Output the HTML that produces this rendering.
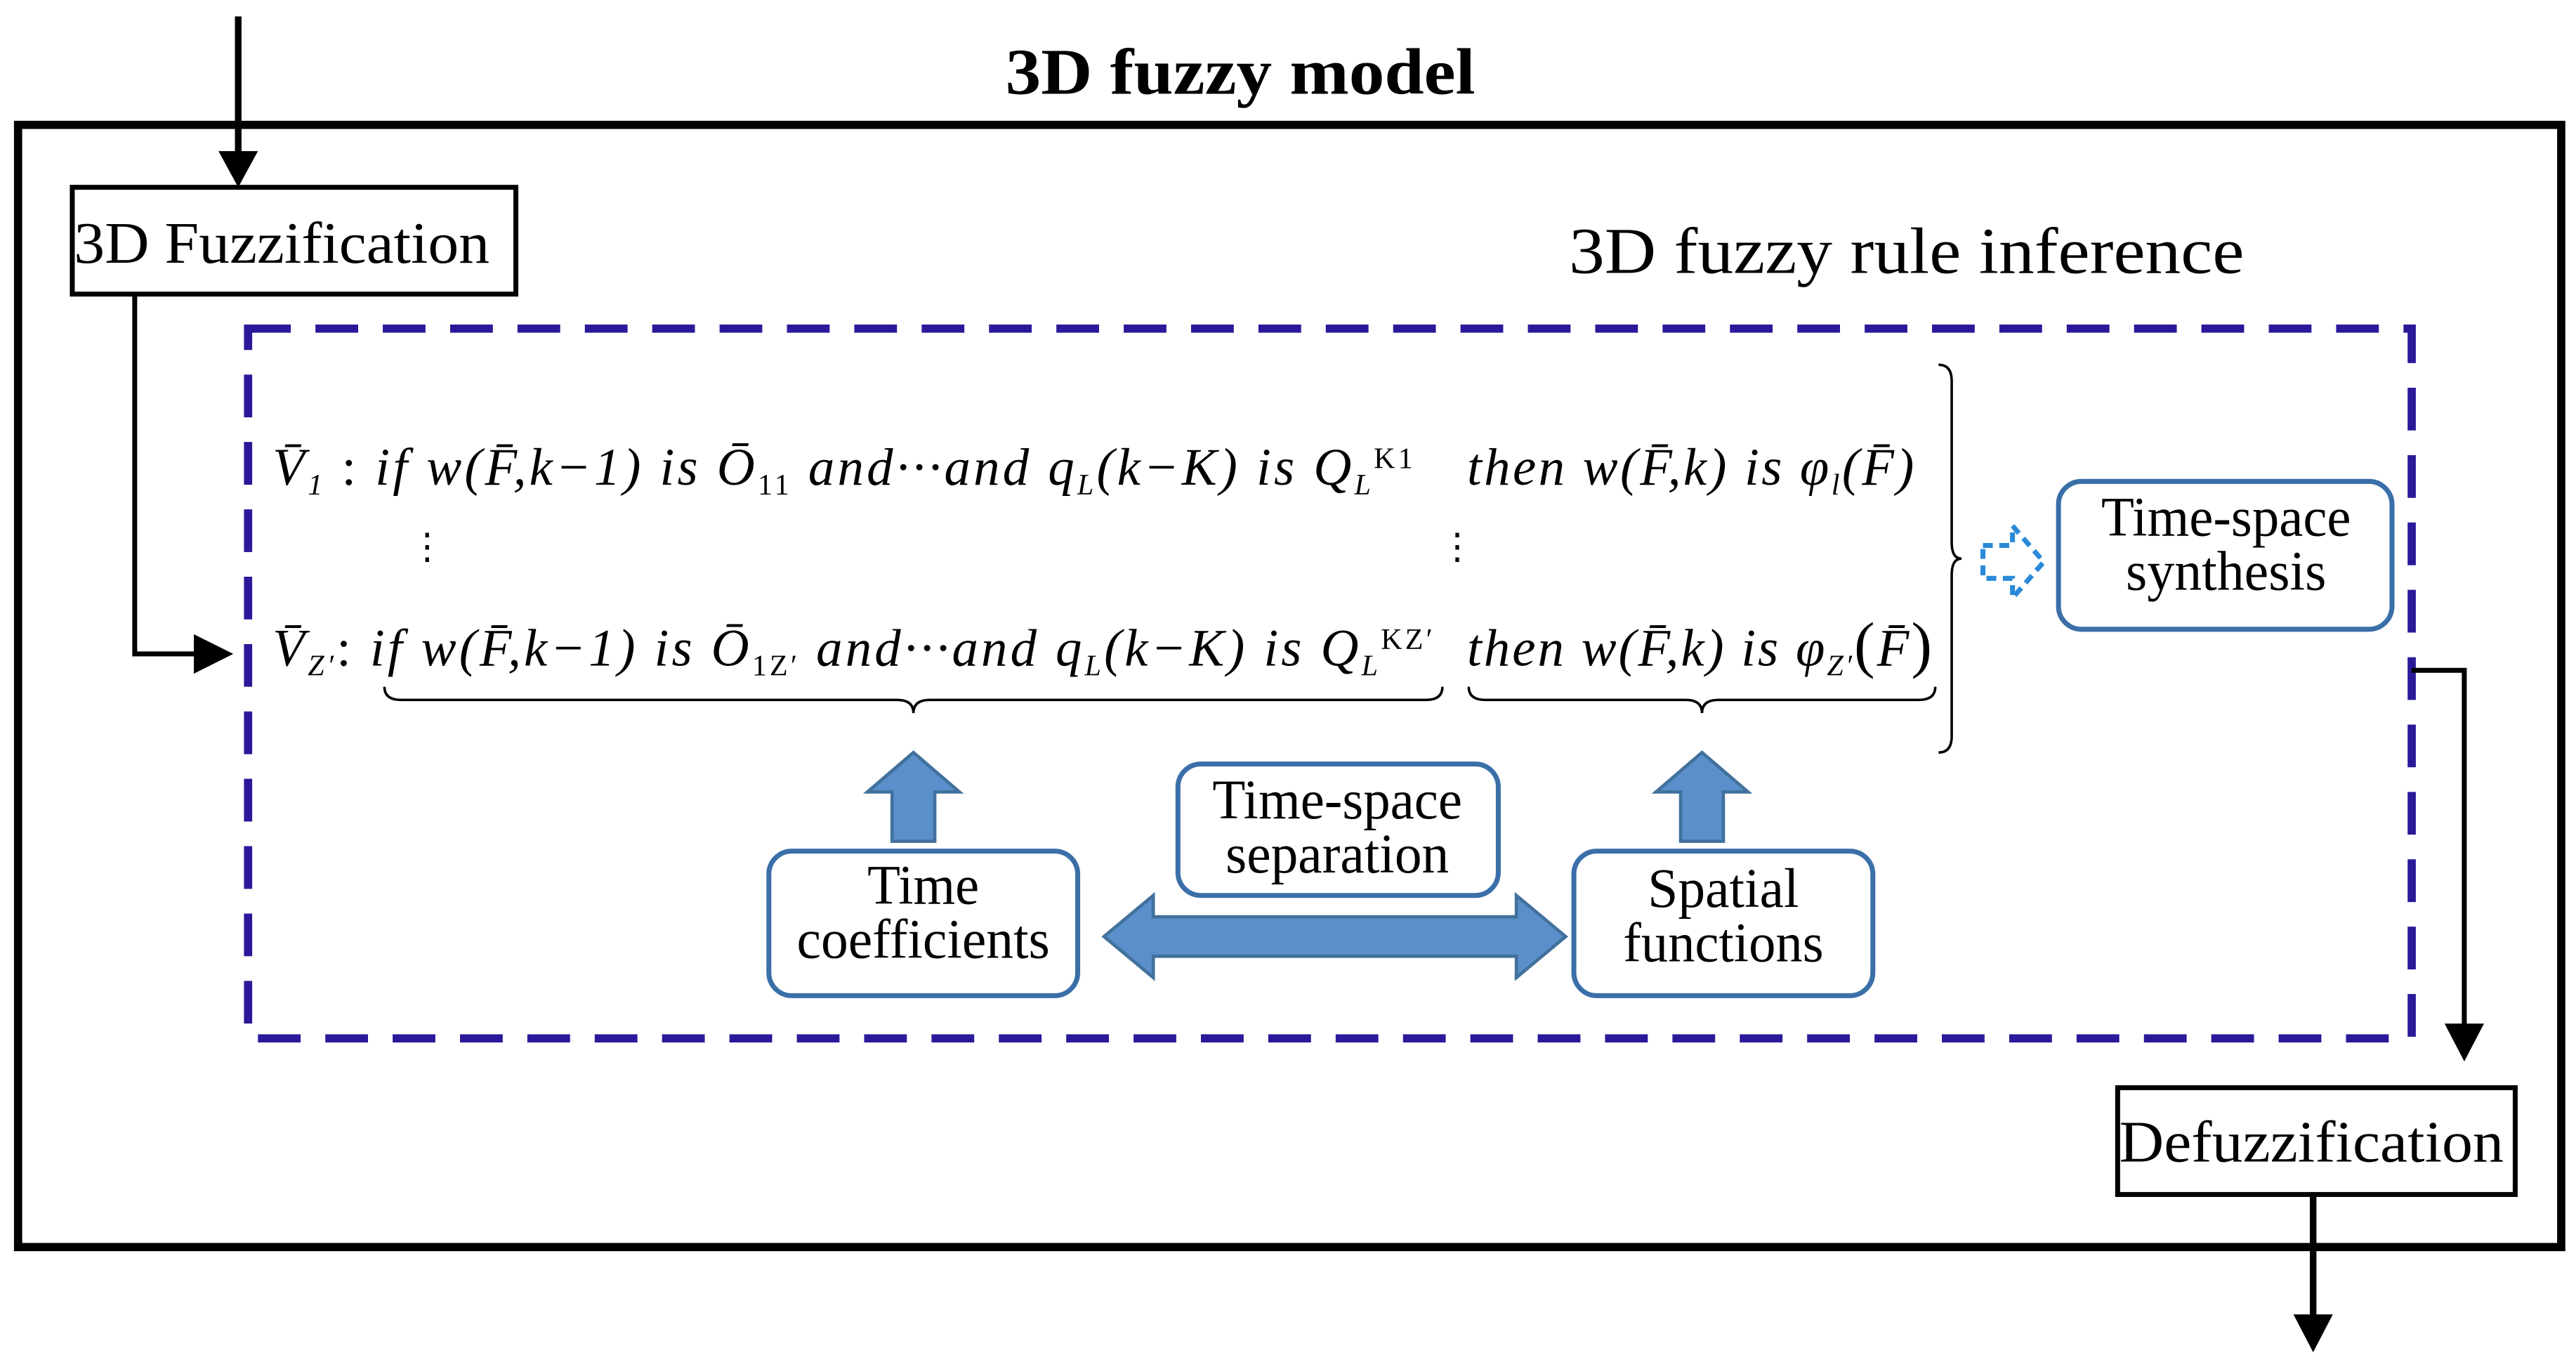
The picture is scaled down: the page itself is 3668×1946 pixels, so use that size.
<!DOCTYPE html>
<html><head><meta charset="utf-8"><style>
html,body{margin:0;padding:0;background:#fff;}
svg{display:block;}
text{font-family:"Liberation Serif",serif;}
.m{font-style:italic;font-size:32px;}
.b{font-size:34px;text-anchor:middle;}
</style></head><body>
<svg width="3668" height="1946" viewBox="0 0 1568 832" preserveAspectRatio="none" xmlns="http://www.w3.org/2000/svg">
<rect x="0" y="0" width="1568" height="832" fill="#fff"/>
<line x1="145" y1="10" x2="145" y2="95" stroke="#000" stroke-width="4"/>
<path d="M133,92 L157,92 L145,114 z" fill="#000"/>
<text x="612" y="57" font-size="40" font-weight="bold" textLength="286" lengthAdjust="spacingAndGlyphs">3D fuzzy model</text>
<rect x="11" y="76" width="1548" height="683" fill="none" stroke="#000" stroke-width="5"/>
<rect x="44" y="114" width="270" height="65" fill="#fff" stroke="#000" stroke-width="3"/>
<text x="45" y="160" font-size="36" textLength="253" lengthAdjust="spacingAndGlyphs">3D Fuzzification</text>
<polyline points="82,179 82,398 120,398" fill="none" stroke="#000" stroke-width="3"/>
<path d="M118,386 L142,398 L118,410 z" fill="#000"/>
<text x="955" y="166" font-size="40" textLength="411" lengthAdjust="spacingAndGlyphs">3D fuzzy rule inference</text>
<rect x="151" y="200" width="1317" height="432" fill="none" stroke="#2a1a9a" stroke-width="5" stroke-dasharray="26 15"/>
<text class="m" x="166" y="295" textLength="694" lengthAdjust="spacing">V̄<tspan font-size="18" dy="6">1</tspan><tspan dy="-6" font-style="normal"> :  </tspan>if  w(F̄,k−1) is Ō<tspan font-size="18" dy="6" font-style="normal">11</tspan><tspan dy="-6"> and···and  q</tspan><tspan font-size="18" dy="6">L</tspan><tspan dy="-6">(k−K) is  Q</tspan><tspan font-size="18" dy="6">L</tspan><tspan font-size="18" dy="-16" font-style="normal">K1</tspan></text>
<text class="m" x="893" y="295" textLength="272" lengthAdjust="spacing">then  w(F̄,k) is φ<tspan font-size="18" dy="6">l</tspan><tspan dy="-6">(F̄)</tspan></text>
<text x="249" y="340" font-size="22">⋮</text>
<text x="876" y="340" font-size="22">⋮</text>
<text class="m" x="166" y="405" textLength="706" lengthAdjust="spacing">V̄<tspan font-size="18" dy="6">Z′</tspan><tspan dy="-6" font-style="normal">: </tspan>if  w(F̄,k−1) is Ō<tspan font-size="18" dy="6" font-style="normal">1Z′</tspan><tspan dy="-6"> and···and  q</tspan><tspan font-size="18" dy="6">L</tspan><tspan dy="-6">(k−K) is  Q</tspan><tspan font-size="18" dy="6">L</tspan><tspan font-size="18" dy="-16" font-style="normal">KZ′</tspan></text>
<text class="m" x="893" y="405" textLength="283" lengthAdjust="spacing">then w(F̄,k) is φ<tspan font-size="18" dy="6">Z′</tspan><tspan dy="-6" font-size="38" font-style="normal">(</tspan><tspan>F̄</tspan><tspan font-size="38" font-style="normal">)</tspan></text>
<path d="M234,418 Q234,426 244,426 L546,426 Q556,426 556,434 Q556,426 566,426 L868,426 Q878,426 878,418" fill="none" stroke="#000" stroke-width="1.5"/>
<path d="M894,418 Q894,426 904,426 L1026,426 Q1036,426 1036,434 Q1036,426 1046,426 L1168,426 Q1178,426 1178,418" fill="none" stroke="#000" stroke-width="1.5"/>
<path d="M1180,222 Q1188,222 1188,232 L1188,330 Q1188,340 1194,340 Q1188,340 1188,350 L1188,448 Q1188,458 1180,458" fill="none" stroke="#000" stroke-width="1.5"/>
<path d="M1207,332 L1225,332 L1225,320 L1244,342 L1225,364 L1225,352 L1207,352 z" fill="none" stroke="#2a8ad8" stroke-width="3" stroke-dasharray="6 4"/>
<rect x="1253" y="293" width="203" height="90" rx="14" fill="#fff" stroke="#3a6fa8" stroke-width="3"/>
<text class="b" x="1355" y="326" textLength="152" lengthAdjust="spacingAndGlyphs">Time-space</text>
<text class="b" x="1355" y="359" textLength="122" lengthAdjust="spacingAndGlyphs">synthesis</text>
<polyline points="1468,408 1500,408 1500,625" fill="none" stroke="#000" stroke-width="3"/>
<path d="M1488,623 L1512,623 L1500,646 z" fill="#000"/>
<rect x="1289" y="662" width="242" height="65" fill="#fff" stroke="#000" stroke-width="3"/>
<text x="1290" y="707" font-size="36" textLength="234" lengthAdjust="spacingAndGlyphs">Defuzzification</text>
<line x1="1408" y1="727" x2="1408" y2="805" stroke="#000" stroke-width="4"/>
<path d="M1396,800 L1420,800 L1408,823 z" fill="#000"/>
<path d="M543,512 L543,482 L528,482 L556,458 L584,482 L569,482 L569,512 z" fill="#5b8fcb" stroke="#41719c" stroke-width="2"/>
<path d="M1023,512 L1023,482 L1008,482 L1036,458 L1064,482 L1049,482 L1049,512 z" fill="#5b8fcb" stroke="#41719c" stroke-width="2"/>
<path d="M672,570 L702,545 L702,558 L923,558 L923,545 L953,570 L923,595 L923,582 L702,582 L702,595 z" fill="#5b8fcb" stroke="#41719c" stroke-width="2"/>
<rect x="468" y="518" width="188" height="88" rx="14" fill="#fff" stroke="#3a6fa8" stroke-width="3"/>
<text class="b" x="562" y="550" textLength="68" lengthAdjust="spacingAndGlyphs">Time</text>
<text class="b" x="562" y="583" textLength="154" lengthAdjust="spacingAndGlyphs">coefficients</text>
<rect x="717" y="465" width="195" height="80" rx="14" fill="#fff" stroke="#3a6fa8" stroke-width="3"/>
<text class="b" x="814" y="498" textLength="152" lengthAdjust="spacingAndGlyphs">Time-space</text>
<text class="b" x="814" y="531" textLength="136" lengthAdjust="spacingAndGlyphs">separation</text>
<rect x="958" y="518" width="182" height="88" rx="14" fill="#fff" stroke="#3a6fa8" stroke-width="3"/>
<text class="b" x="1049" y="552" textLength="92" lengthAdjust="spacingAndGlyphs">Spatial</text>
<text class="b" x="1049" y="585" textLength="122" lengthAdjust="spacingAndGlyphs">functions</text>
</svg>
</body></html>
